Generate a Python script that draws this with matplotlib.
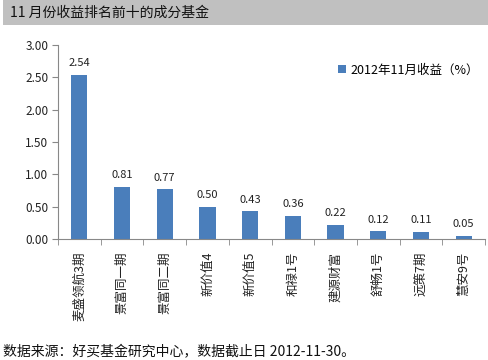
import matplotlib
matplotlib.use("Agg")
import matplotlib.pyplot as plt
from matplotlib.patches import Rectangle
import numpy as np

plt.rcParams['font.family'] = ['Noto Sans CJK SC', 'DejaVu Sans']

categories = ["麦盛领航3期", "景富同一期", "景富同二期", "新价值4", "新价值5",
              "和禄1号", "建源财富", "舒畅1号", "远策7期", "慧安9号"]
values = [2.54, 0.81, 0.77, 0.50, 0.43, 0.36, 0.22, 0.12, 0.11, 0.05]
series_name = "2012年11月收益（%）"
title = "11 月份收益排名前十的成分基金"
footer = "数据来源：好买基金研究中心，数据截止日 2012-11-30。"
yticks = [0.0, 0.5, 1.0, 1.5, 2.0, 2.5, 3.0]

fig = plt.figure(figsize=(4.88, 3.6), dpi=100)
fig.patch.set_facecolor("white")

# title band
fig.patches.append(Rectangle((3/488, 1-25/360), 1-3/488, 25/360, transform=fig.transFigure,
                             facecolor="#c0c0c0", edgecolor="none", zorder=0))
fig.text(10/488, 1-13/360, title, fontsize=10, va="center", ha="left", color="#111111")

ax = fig.add_axes([58/488, 1-239/360, (485-58)/488, (239-45)/360])
x = np.arange(len(categories))
bars = ax.bar(x, values, width=0.38, color="#4a7ebb", label=series_name, zorder=2)
for xi, v in zip(x, values):
    ax.text(xi, v + 0.1, f"{v:.2f}", ha="center", va="bottom", fontsize=8, color="#222222")

ax.set_xlim(-0.5, len(categories) - 0.5)
ax.set_ylim(0, 3.0)
ax.set_yticks(yticks)
ax.set_yticklabels([f"{t:.2f}" for t in yticks], fontsize=8.5, color="#222222")
ax.set_xticks(x)
ax.set_xticklabels(categories, rotation=90, fontsize=9, color="#222222")
ax.tick_params(axis="x", length=0, pad=9)
ax.set_xticks(np.arange(-0.5, len(categories), 1.0), minor=True)
ax.tick_params(axis="x", which="minor", length=4, color="#888888", direction="out")
ax.tick_params(axis="y", length=4, color="#888888", direction="out", pad=3)
for s in ["top", "right"]:
    ax.spines[s].set_visible(False)
for s in ["left", "bottom"]:
    ax.spines[s].set_color("#888888")
    ax.spines[s].set_linewidth(0.8)

leg = ax.legend(loc="upper left", bbox_to_anchor=(0.645, 0.93), frameon=False, fontsize=9,
                handlelength=0.6, handleheight=0.6, handletextpad=0.4, borderaxespad=0)

fig.text(3/488, 8/360, footer, fontsize=10, ha="left", va="center", color="#111111")

fig.savefig("out.png", dpi=100)
